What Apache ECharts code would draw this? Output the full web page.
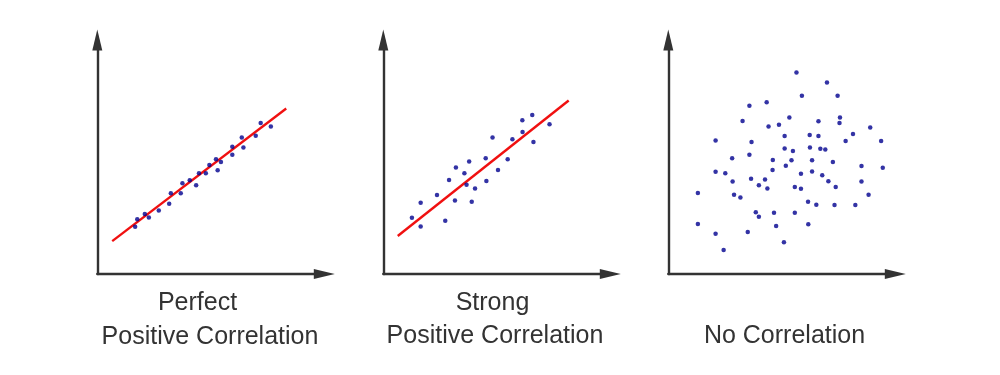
<!DOCTYPE html>
<html>
<head>
<meta charset="utf-8">
<script src="https://cdn.jsdelivr.net/npm/echarts@6/dist/echarts.min.js"></script>
<style>
html,body{margin:0;padding:0;background:#fff;}
#c{width:1000px;height:375px;}
</style>
</head>
<body>
<div id="c"></div>
<script>
// Panel titles (each entry is a list of lines)
const titles = [
  ["Perfect", "Positive Correlation"],
  ["Strong", "Positive Correlation"],
  ["No Correlation"]
];

// Panel 1: perfect positive correlation
const perfectPoints = [
  [16.0,19.4],[16.9,22.5],[20.1,24.6],[21.8,23.2],[26.0,26.1],[30.4,28.8],
  [31.1,33.1],[35.3,33.1],[36.0,37.2],[39.1,38.5],[41.8,36.4],[43.0,41.3],
  [45.9,41.3],[47.4,44.7],[50.2,47.1],[52.3,46.0],[50.9,42.6],[57.1,52.2],
  [57.1,48.9],[61.1,56.0],[61.8,51.9],[67.0,56.7],[69.1,61.9],[73.4,60.5]
];
const perfectLine = [[6.3,13.5],[79.9,67.9]];

// Panel 2: strong positive correlation
const strongPoints = [
  [12.1,23.1],[15.8,19.5],[15.8,29.2],[22.7,32.4],[26.2,21.8],[27.8,38.6],
  [30.3,30.2],[30.7,43.7],[34.3,41.3],[35.2,36.6],[36.3,46.2],[37.4,29.6],
  [38.8,35.1],[43.3,47.5],[43.6,38.2],[46.2,56.0],[48.5,42.7],[52.6,47.1],
  [54.6,55.3],[58.8,63.1],[58.9,58.3],[63.0,65.2],[63.5,54.2],[70.3,61.4]
];
const strongLine = [[6.1,15.6],[78.4,71.2]];

// Panel 3: no correlation
const noCorrPoints = [
  [54.2,82.7],[67.1,78.6],[56.5,73.1],[71.6,73.1],[34.3,69.0],[41.6,70.5],
  [51.2,64.2],[31.4,62.8],[42.4,60.5],[46.8,61.2],[63.5,62.7],[72.6,64.2],
  [72.4,62.0],[85.4,60.1],[78.1,57.4],[20.0,54.8],[35.2,54.2],[49.2,56.6],
  [59.8,57.0],[63.5,56.6],[75.0,54.6],[90.0,54.6],[49.2,51.5],[52.7,50.5],
  [59.9,51.9],[64.3,51.4],[66.4,51.1],[27.0,47.5],[34.3,48.9],[44.2,46.8],
  [52.1,46.7],[60.8,46.7],[69.6,45.9],[49.7,44.4],[44.1,42.7],[81.7,44.3],
  [90.7,43.6],[20.0,41.9],[24.1,41.3],[56.1,41.1],[60.8,42.1],[65.1,40.5],
  [27.2,38.0],[35.0,39.1],[40.9,38.8],[38.3,36.4],[41.9,35.1],[53.5,35.7],
  [56.1,35.0],[67.7,38.1],[70.8,35.7],[81.7,38.0],[96.4,38.8],[12.5,33.2],
  [27.8,32.5],[30.5,31.4],[84.7,32.5],[59.1,29.6],[62.6,28.4],[70.3,28.3],
  [79.1,28.3],[37.0,25.3],[38.3,23.5],[44.7,25.1],[53.5,25.1],[12.5,20.5],
  [20.0,16.5],[33.6,17.2],[45.6,19.7],[59.2,20.4],[48.9,13.0],[23.4,9.8]
];

const chart = echarts.init(document.getElementById('c'), null, {renderer:'canvas'});

const gridLefts = [97.3, 383.3, 668.3];
const gridTop = 40, gridH = 234, gridW = 227;
const AX_MAX = 96;

const axisCommon = {
  type:'value', min:0, max:AX_MAX,
  splitLine:{show:false}, axisTick:{show:false}, axisLabel:{show:false},
  axisLine:{show:true, symbol:['none','triangle'], symbolSize:[10,21],
    lineStyle:{color:'#333', width:2.4}}
};

const grids = gridLefts.map(l => ({left:l, top:gridTop, width:gridW, height:gridH, containLabel:false}));
const xAxes = gridLefts.map((l,i) => Object.assign({}, axisCommon, {gridIndex:i}));
const yAxes = gridLefts.map((l,i) => Object.assign({}, axisCommon, {gridIndex:i}));

const dotStyle = {color:'#00008f'};
const lineStyle = {color:'#f01010', width:2.4};

const series = [
  {type:'scatter', xAxisIndex:0, yAxisIndex:0, data:perfectPoints, symbolSize:4.5, itemStyle:dotStyle, z:3},
  {type:'line', xAxisIndex:0, yAxisIndex:0, data:perfectLine, showSymbol:false, lineStyle:lineStyle, z:2},
  {type:'scatter', xAxisIndex:1, yAxisIndex:1, data:strongPoints, symbolSize:4.5, itemStyle:dotStyle, z:3},
  {type:'line', xAxisIndex:1, yAxisIndex:1, data:strongLine, showSymbol:false, lineStyle:lineStyle, z:2},
  {type:'scatter', xAxisIndex:2, yAxisIndex:2, data:noCorrPoints, symbolSize:4.5, itemStyle:dotStyle, z:3}
];

// text placement
const textCenters = [[197.5, 210], [492.5, 495], [784.5]];
const textYs = [[303, 337], [303, 336], [336]];
const graphic = [];
titles.forEach((lines, p) => {
  lines.forEach((t, k) => {
    graphic.push({
      type:'text', x:textCenters[p][k], y:textYs[p][k],
      style:{text:t, fill:'#333', font:'25px "Liberation Sans", Arial, sans-serif',
        textAlign:'center', textVerticalAlign:'middle'}
    });
  });
});

chart.setOption({
  animation:false,
  backgroundColor:'#ffffff',
  grid:grids, xAxis:xAxes, yAxis:yAxes, series:series, graphic:graphic
});
</script>
</body>
</html>
